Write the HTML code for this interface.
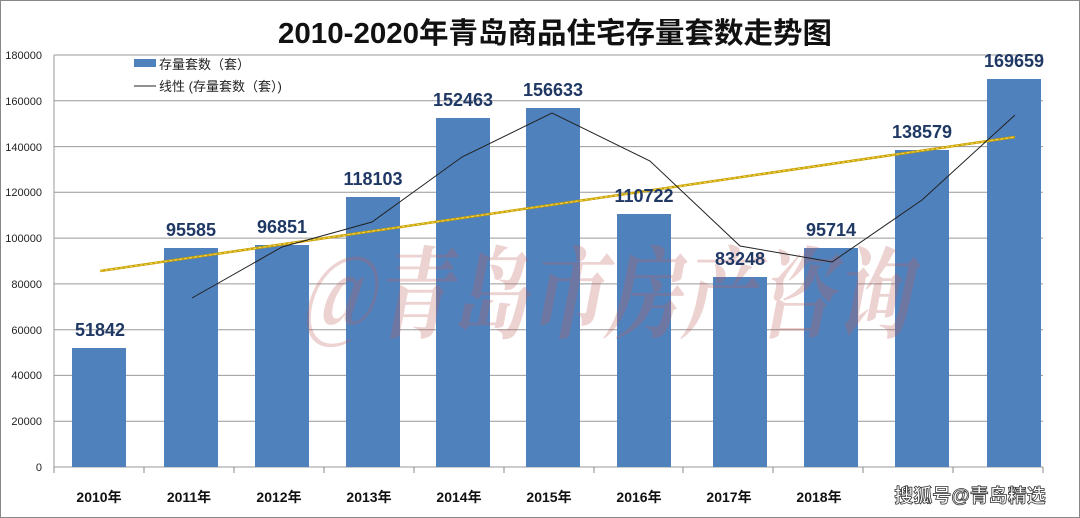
<!DOCTYPE html>
<html><head><meta charset="utf-8"><style>
body{margin:0;background:#fff;}
svg{display:block;font-family:"Liberation Sans","Noto Sans CJK SC",sans-serif;}
</style></head><body>
<svg width="1080" height="518" viewBox="0 0 1080 518">
<rect x="0.5" y="0.5" width="1079" height="517" fill="#fff" stroke="#888"/>
<text x="555" y="43" text-anchor="middle" font-size="29" font-weight="bold" fill="#111" textLength="554" lengthAdjust="spacingAndGlyphs">2010-2020年青岛商品住宅存量套数走势图</text>
<g stroke="#999" stroke-width="1">
<line x1="54" y1="55" x2="1043" y2="55"/><line x1="54" y1="100.8" x2="1043" y2="100.8"/>
<line x1="54" y1="146.6" x2="1043" y2="146.6"/><line x1="54" y1="192.3" x2="1043" y2="192.3"/>
<line x1="54" y1="238.1" x2="1043" y2="238.1"/><line x1="54" y1="283.9" x2="1043" y2="283.9"/>
<line x1="54" y1="329.7" x2="1043" y2="329.7"/><line x1="54" y1="375.4" x2="1043" y2="375.4"/>
<line x1="54" y1="421.2" x2="1043" y2="421.2"/>
<line x1="54" y1="55" x2="54" y2="467"/><line x1="54" y1="467" x2="1043" y2="467"/>
</g>
<g font-size="11" fill="#222" text-anchor="end">
<text x="42" y="59">180000</text><text x="42" y="105">160000</text><text x="42" y="151">140000</text>
<text x="42" y="196">120000</text><text x="42" y="242">100000</text><text x="42" y="288">80000</text>
<text x="42" y="334">60000</text><text x="42" y="379">40000</text><text x="42" y="425">20000</text><text x="42" y="471">0</text>
</g>
<g fill="#4f81bd">
<rect x="72" y="348" width="54" height="119"/>
<rect x="164" y="248" width="54" height="219"/>
<rect x="255" y="245" width="54" height="222"/>
<rect x="346" y="197" width="54" height="270"/>
<rect x="436" y="118" width="54" height="349"/>
<rect x="526" y="108" width="54" height="359"/>
<rect x="617" y="214" width="54" height="253"/>
<rect x="713" y="277" width="54" height="190"/>
<rect x="804" y="248" width="54" height="219"/>
<rect x="895" y="150" width="54" height="317"/>
<rect x="987" y="79" width="54" height="388"/>
</g>
<text x="300" y="330" font-size="100" font-style="italic" font-weight="bold" fill="#c06060" opacity="0.28" font-family="'Noto Serif CJK SC',serif" textLength="610" lengthAdjust="spacingAndGlyphs">@青岛市房产咨询</text>
<line x1="100" y1="271" x2="1015" y2="137" stroke="#c9a000" stroke-width="2.5"/>
<line x1="100" y1="271" x2="1015" y2="137" stroke="#f0d860" stroke-width="1" stroke-dasharray="3 2"/>
<polyline fill="none" stroke="#222" stroke-width="1" points="192,298 282,247 372,222 462,157 552,113 650,161 740,246 832,262 922,200 1015,115"/>
<g font-size="18" font-weight="bold" fill="#1f3864" text-anchor="middle">
<text x="100" y="336">51842</text><text x="191" y="236">95585</text><text x="282" y="233">96851</text>
<text x="373" y="185">118103</text><text x="463" y="106">152463</text><text x="553" y="96">156633</text>
<text x="644" y="202">110722</text><text x="740" y="265">83248</text><text x="831" y="236">95714</text>
<text x="922" y="138">138579</text><text x="1014" y="67">169659</text>
</g>
<g stroke="#888"><line x1="54" y1="467" x2="54" y2="473"/>
<line x1="144" y1="467" x2="144" y2="473"/><line x1="234" y1="467" x2="234" y2="473"/><line x1="324" y1="467" x2="324" y2="473"/>
<line x1="414" y1="467" x2="414" y2="473"/><line x1="504" y1="467" x2="504" y2="473"/><line x1="594" y1="467" x2="594" y2="473"/>
<line x1="683" y1="467" x2="683" y2="473"/><line x1="773" y1="467" x2="773" y2="473"/><line x1="863" y1="467" x2="863" y2="473"/>
<line x1="953" y1="467" x2="953" y2="473"/><line x1="1043" y1="467" x2="1043" y2="473"/></g>
<g font-size="14" font-weight="bold" fill="#111" text-anchor="middle">
<text x="99" y="502">2010年</text><text x="189" y="502">2011年</text><text x="279" y="502">2012年</text>
<text x="369" y="502">2013年</text><text x="459" y="502">2014年</text><text x="549" y="502">2015年</text>
<text x="639" y="502">2016年</text><text x="729" y="502">2017年</text><text x="819" y="502">2018年</text>
</g>
<text x="970" y="502" text-anchor="middle" font-size="19" fill="#fff" stroke="#333" stroke-width="0.8" font-weight="bold">搜狐号@青岛精选</text>
<rect x="134" y="59" width="22" height="8" fill="#4f81bd"/>
<text x="159" y="69" font-size="13" fill="#222">存量套数（套）</text>
<line x1="134" y1="86" x2="156" y2="86" stroke="#222"/>
<text x="159" y="91" font-size="13" fill="#222">线性 (存量套数（套）)</text>
</svg>
</body></html>
